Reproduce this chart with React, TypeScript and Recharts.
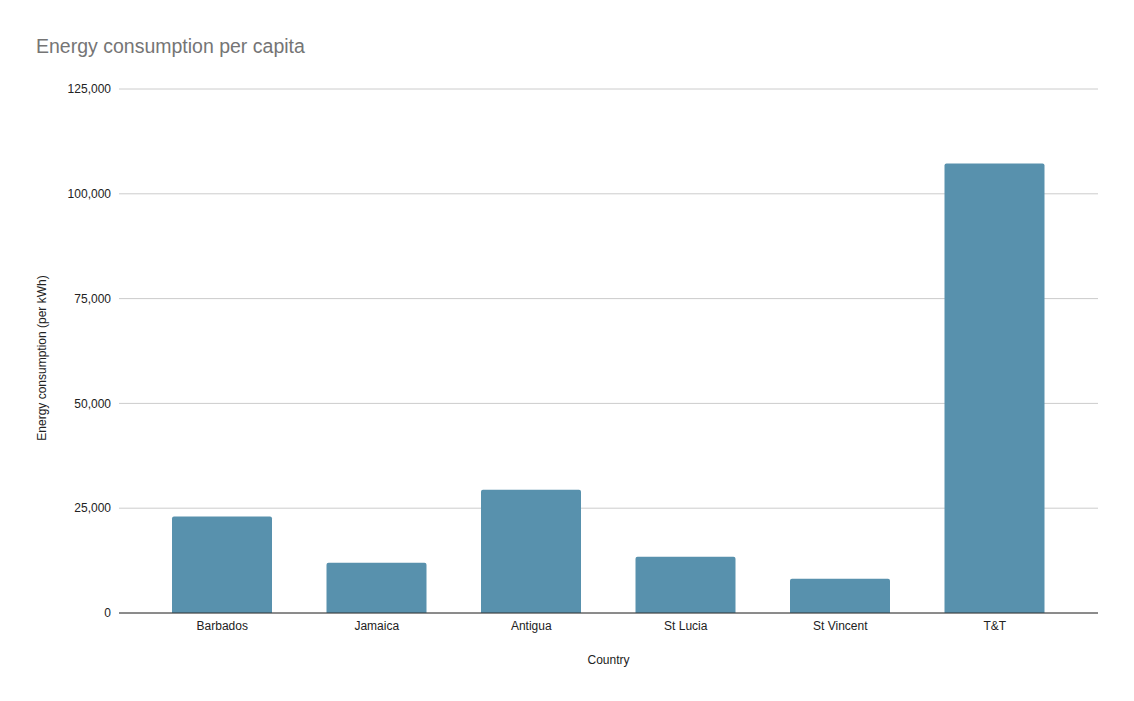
import { BarChart, Bar, XAxis, YAxis, CartesianGrid } from 'recharts'

const countries = ['Barbados', 'Jamaica', 'Antigua', 'St Lucia', 'St Vincent', 'T&T']
const consumption = [23000, 12000, 29400, 13400, 8200, 107200]
const yTicks = [0, 25000, 50000, 75000, 100000, 125000]

const FONT = '"Liberation Sans", Arial, sans-serif'
const fmt = (v: number) => v.toLocaleString('en-US')

const data = countries.map((name, i) => ({ name, value: consumption[i] }))

function YLabel({ viewBox }: any) {
  const cy = viewBox.y + viewBox.height / 2 + 7
  return (
    <text
      x={42}
      y={cy}
      transform={`rotate(-90 42 ${cy})`}
      textAnchor="middle"
      dominantBaseline="central"
      fontSize={12}
      fill="#222"
      fontFamily={FONT}
    >
      Energy consumption (per kWh)
    </text>
  )
}

export default function App() {
  return (
    <div style={{ position: 'absolute', left: 0, top: 0, width: 1134, height: 701, background: '#fff', fontFamily: FONT }}>
      <div style={{ position: 'absolute', left: 36, top: 37, fontSize: 19.5, lineHeight: '18px', color: '#757575' }}>
        Energy consumption per capita
      </div>
      <BarChart
        width={1134}
        height={701}
        data={data}
        margin={{ top: 89, right: 36, bottom: 28, left: 0 }}
        barSize={100}
      >
        <CartesianGrid vertical={false} stroke="#cccccc" />
        <XAxis
          dataKey="name"
          height={60}
          padding={{ left: 26, right: 26 }}
          tickLine={false}
          axisLine={{ stroke: '#333333' }}
          tick={{ fill: '#222', fontSize: 12, fontFamily: FONT }}
          label={{ value: 'Country', position: 'insideBottom', offset: 9, fill: '#222', fontSize: 12, fontFamily: FONT }}
        />
        <YAxis
          width={119}
          domain={[0, 125000]}
          ticks={yTicks}
          tickFormatter={fmt}
          axisLine={false}
          tickLine={false}
          tick={{ fill: '#222', fontSize: 12, fontFamily: FONT }}
          label={<YLabel />}
        />
        <Bar dataKey="value" fill="#5891ad" radius={[2, 2, 0, 0]} isAnimationActive={false} />
      </BarChart>
    </div>
  )
}
